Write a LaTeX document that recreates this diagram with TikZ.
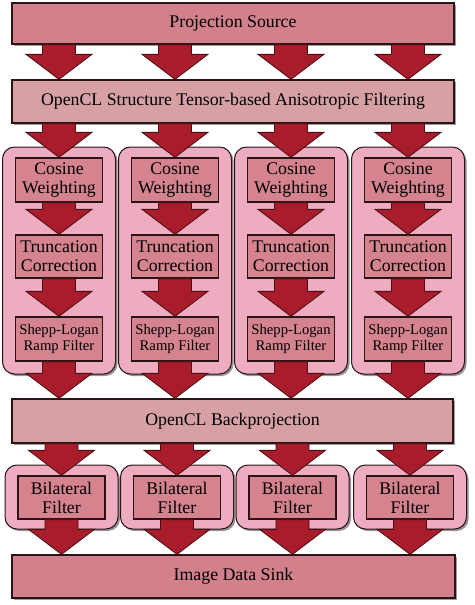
\documentclass[tikz,border=0pt]{standalone}
\usepackage{fontspec}
\setmainfont{Liberation Serif}
\usetikzlibrary{calc,shadows}
\definecolor{boxA}{HTML}{D2808C}
\definecolor{boxB}{HTML}{D6A0A5}
\definecolor{colbg}{HTML}{EEACC0}
\definecolor{inbox}{HTML}{D4838F}
\definecolor{arrfill}{HTML}{A81C2B}
\definecolor{arrline}{HTML}{4A0E14}
\definecolor{edge}{HTML}{2A1416}
\tikzset{
  bigbox/.style={draw=edge, line width=1.3pt, minimum width=442pt, inner sep=0pt,
    font=\fontsize{17.8}{19}\selectfont, drop shadow={shadow xshift=2pt, shadow yshift=-2pt, fill=black!55, opacity=0.7}},
  colbox/.style={draw=edge, line width=1pt, fill=colbg, rounded corners=12pt, minimum width=113pt, inner sep=0pt,
    drop shadow={shadow xshift=2pt, shadow yshift=-2pt, fill=black!60, opacity=0.7}},
  stepbox/.style={draw=edge, line width=1.3pt, fill=inbox, minimum width=87pt, inner sep=0pt, align=center,
    font=\fontsize{17.8}{19}\selectfont},
  smallbox/.style={stepbox, font=\fontsize{14.7}{16}\selectfont},
  blockarrow/.style={fill=arrfill, draw=arrline, line width=0.8pt, line join=miter},
}
\newcommand\blkarrow[2]{%
  \draw[blockarrow] let \p1=(#1), \p2=(#2) in
    (\x2-16.5pt,\y1) -- (\x2+16.5pt,\y1) -- (\x2+16.5pt,\y2+25pt) -- (\x2+33pt,\y2+25pt)
    -- (\x2,\y2) -- (\x2-33pt,\y2+25pt) -- (\x2-16.5pt,\y2+25pt) -- cycle;}
\begin{document}
\begin{tikzpicture}[x=1pt,y=-1pt]
\useasboundingbox (0,0) rectangle (474,605);
% big boxes
\node[bigbox, fill=boxA, minimum height=41pt] (ps) at (233,23.5) {Projection Source};
\node[bigbox, fill=boxB, minimum height=43pt] (st) at (233,101.5) {OpenCL Structure Tensor-based Anisotropic Filtering};
\node[bigbox, fill=boxB, minimum height=44pt, minimum width=441pt] (bp) at (232.5,421) {OpenCL Backprojection};
\node[bigbox, fill=boxA, minimum height=43pt, minimum width=443pt] (sk) at (233.5,576.5) {Image Data Sink};
% columns
\foreach \i/\cx in {1/59,2/175,3/291,4/408}{
  \node[colbox, minimum height=227pt] (col\i) at (\cx,260.5) {};
  \node[stepbox, minimum height=44pt] (cw\i) at (\cx,180) {Cosine\\Weighting};
  \node[stepbox, minimum height=43pt] (tc\i) at (\cx,256.5) {Truncation\\Correction};
  \node[smallbox, minimum height=44pt] (sl\i) at (\cx,339) {Shepp-Logan\\Ramp Filter};
}
\foreach \i/\cx in {1/61.5,2/177,3/292.5,4/410}{
  \node[colbox, minimum height=64pt] (bg\i) at (\cx,497) {};
  \node[stepbox, minimum height=43pt] (bf\i) at (\cx,497.5) {Bilateral\\Filter};
}
% arrows
\foreach \i in {1,2,3,4}{
  \blkarrow{ps.south}{st.north -| cw\i}
  \blkarrow{st.south}{cw\i.north}
  \blkarrow{cw\i.south}{tc\i.north}
  \blkarrow{tc\i.south}{sl\i.north}
  \blkarrow{sl\i.south}{bp.north -| sl\i}
  \blkarrow{bp.south}{bf\i.north}
  \blkarrow{bf\i.south}{sk.north -| bf\i}
}
\end{tikzpicture}
\end{document}
